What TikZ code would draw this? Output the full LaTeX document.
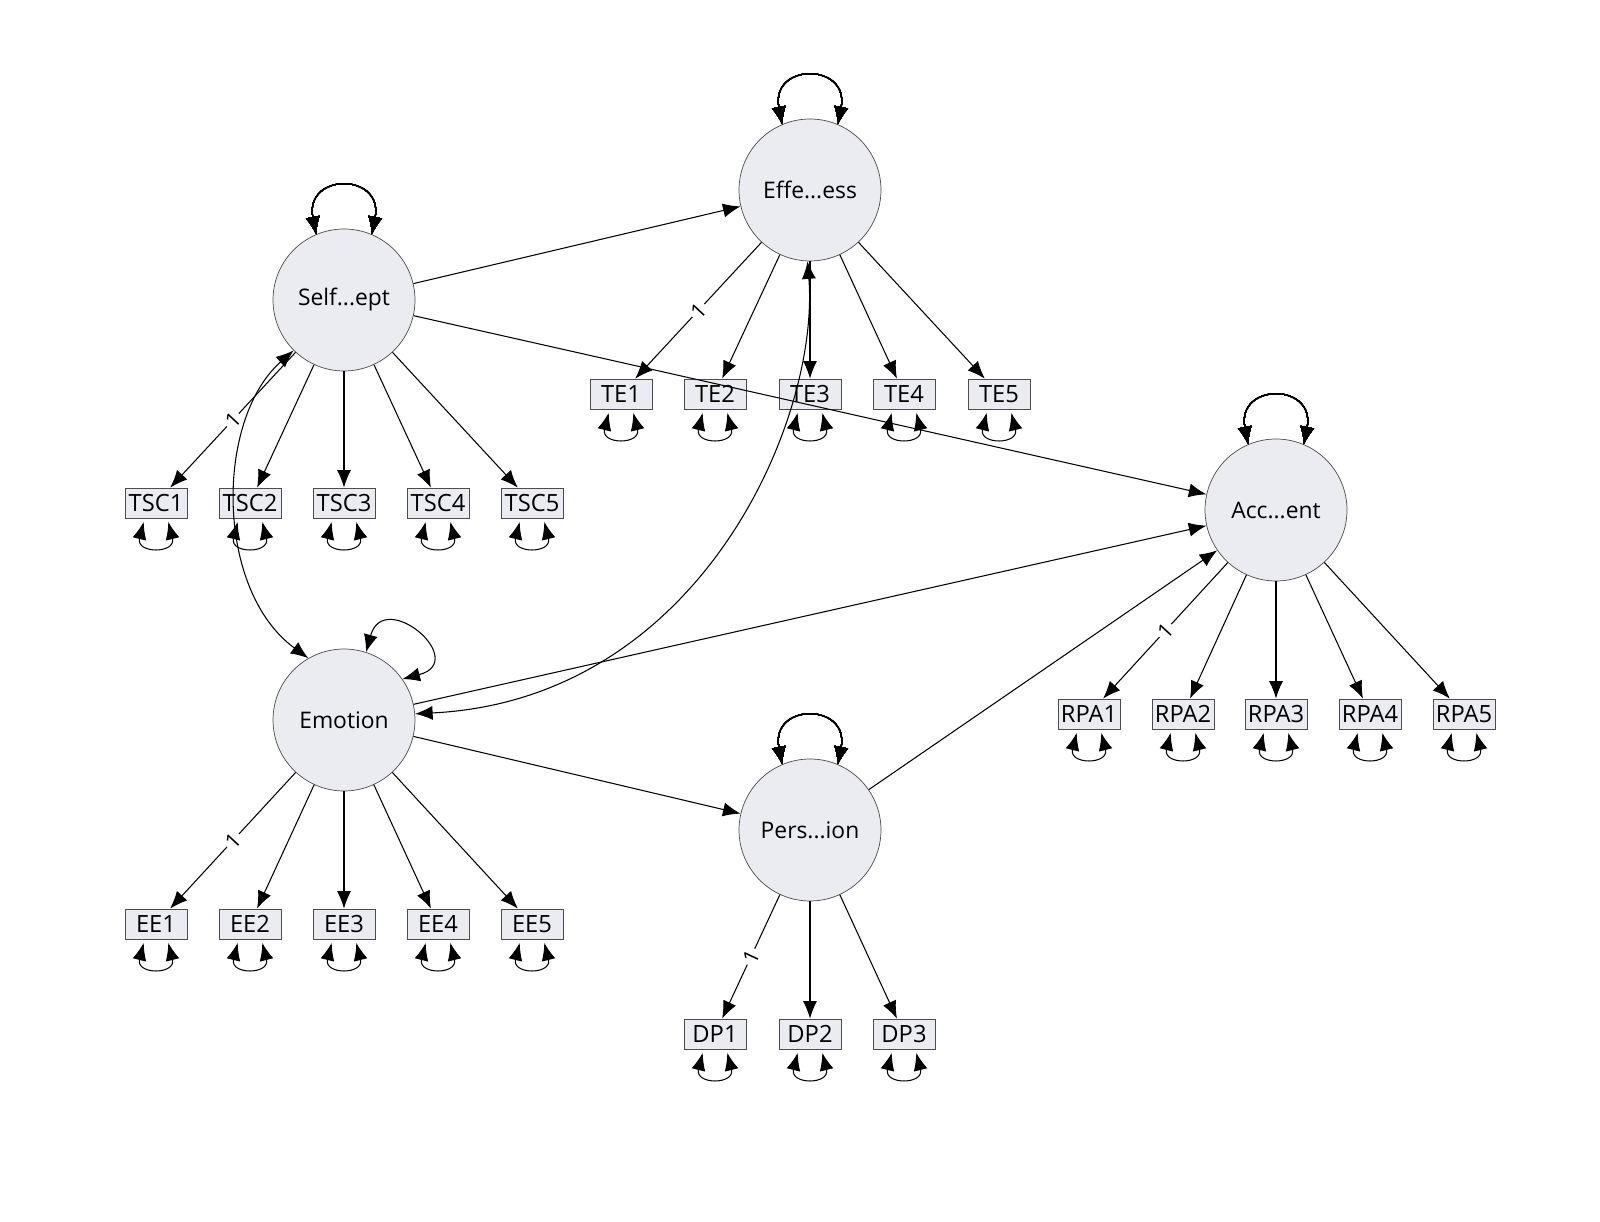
\documentclass[tikz,border=0pt]{standalone}
\usepackage{fontspec}
\setmainfont{Open Sans}
\usetikzlibrary{arrows.meta}
\definecolor{nodefill}{RGB}{234,236,242}
\tikzset{
  latent/.style={circle, draw=black!70, fill=nodefill, minimum size=2.84cm, inner sep=0pt, font=\fontsize{13}{15}\selectfont},
  obs/.style={rectangle, draw=black!70, fill=nodefill, minimum width=1.24cm, minimum height=0.6cm, inner sep=0pt, font=\fontsize{13.5}{15}\selectfont},
  path/.style={-{Latex[length=10pt,width=8pt]}, black, semithick},
  cov/.style={{Latex[length=10pt,width=8pt]}-{Latex[length=10pt,width=8pt]}, black, semithick},
  one/.style={midway, sloped, fill=white, inner sep=1.5pt, font=\fontsize{12}{14}\selectfont},
}
\newcommand{\errloop}[1]{\draw[cov] ([xshift=-7pt,yshift=-2pt]#1.south) .. controls +(-8,32) and +(8,32) .. ([xshift=7pt,yshift=-2pt]#1.south);}
\begin{document}
\begin{tikzpicture}[x=0.02cm, y=-0.02cm]
  \useasboundingbox (0,0) rectangle (1600,1222);
  % latent variables
  \node[latent] (self) at (344,300) {Self...ept};
  \node[latent] (eff) at (810,190) {Effe...ess};
  \node[latent] (acc) at (1276,510) {Acc...ent};
  \node[latent] (emo) at (344,720) {Emotion};
  \node[latent] (pers) at (810,830) {Pers...ion};
  % indicators
  \foreach \i/\x in {1/156,2/250,3/344,4/438,5/532} {
    \node[obs] (tsc\i) at (\x,503) {TSC\i};
    \node[obs] (ee\i) at (\x,924) {EE\i};
  }
  \foreach \i/\x in {1/621,2/715,3/810,4/904,5/999}
    \node[obs] (te\i) at (\x,394) {TE\i};
  \foreach \i/\x in {1/1089,2/1183,3/1276,4/1370,5/1464}
    \node[obs] (rpa\i) at (\x,714) {RPA\i};
  \foreach \i/\x in {1/715,2/810,3/904}
    \node[obs] (dp\i) at (\x,1034) {DP\i};
  % loadings
  \foreach \lv/\ob in {self/tsc,emo/ee,eff/te,acc/rpa} {
    \draw[path] (\lv) -- (\ob1) node[one] {1};
    \foreach \i in {2,...,5} \draw[path] (\lv) -- (\ob\i);
  }
  \draw[path] (pers) -- (dp1) node[one] {1};
  \draw[path] (pers) -- (dp2);
  \draw[path] (pers) -- (dp3);
  % structural paths
  \draw[path] (self) -- (eff);
  \draw[path] (self) -- (acc);
  \draw[path] (emo) -- (acc);
  \draw[path] (emo) -- (pers);
  \draw[path] (pers) -- (acc);
  % covariances
  \draw[cov] (emo.120) .. controls (215,590) and (215,420) .. (self.225);
  \draw[cov] (emo.5) .. controls (700,700) and (820,420) .. (eff.268);
  % error variances
  \foreach \n in {tsc1,tsc2,tsc3,tsc4,tsc5,ee1,ee2,ee3,ee4,ee5,te1,te2,te3,te4,te5,rpa1,rpa2,rpa3,rpa4,rpa5,dp1,dp2,dp3}
    \errloop{\n}
  \foreach \n in {self,eff,acc,pers}
    \draw[cov] (\n.113) .. controls +(-12,-62) and +(12,-62) .. (\n.67);
  \draw[cov] (emo.72) .. controls +(18,-65) and +(68,-18) .. (emo.35);
\end{tikzpicture}
\end{document}
